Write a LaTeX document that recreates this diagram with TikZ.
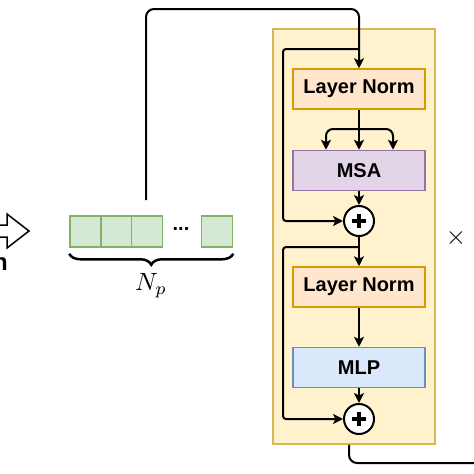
\documentclass[tikz,border=0pt]{standalone}
\usepackage{fontspec}
\setsansfont{Liberation Sans}
\usetikzlibrary{arrows.meta,decorations.pathreplacing}
\definecolor{blkfill}{HTML}{FFF2CC}
\definecolor{blkdraw}{HTML}{D6B656}
\definecolor{lnfill}{HTML}{FFE6CC}
\definecolor{lndraw}{HTML}{D79B00}
\definecolor{msafill}{HTML}{E1D5E7}
\definecolor{msadraw}{HTML}{9673A6}
\definecolor{mlpfill}{HTML}{DAE8FC}
\definecolor{mlpdraw}{HTML}{6C8EBF}
\definecolor{cellfill}{HTML}{D5E8D4}
\definecolor{celldraw}{HTML}{82B366}
\tikzset{
  layerbox/.style={rectangle, minimum width=132pt, minimum height=40pt, inner sep=0pt, line width=1.5pt,
    font=\sffamily\bfseries\fontsize{20}{24}\selectfont},
  cellbox/.style={rectangle, minimum width=31pt, minimum height=31pt, inner sep=0pt, line width=1.5pt,
    fill=cellfill, draw=celldraw},
  plusnode/.style={circle, minimum size=30pt, inner sep=0pt, draw=black, fill=white, line width=2pt},
  conn/.style={line width=2pt, draw=black},
  arr/.style={conn, -{Stealth[length=10pt,width=10pt,inset=2.5pt]}},
}
\newcommand{\plussign}[1]{%
  \draw[line width=3.5pt] ([xshift=-7pt]#1.center) -- ([xshift=7pt]#1.center);
  \draw[line width=3.5pt] ([yshift=-7pt]#1.center) -- ([yshift=7pt]#1.center);}
\begin{document}
\begin{tikzpicture}[x=1pt,y=-1pt]
\useasboundingbox (0,0) rectangle (474,474);
\clip (0,0) rectangle (474,474);
\fill[white] (0,0) rectangle (474,474);

% container block
\node[rectangle, minimum width=162pt, minimum height=415pt, inner sep=0pt, fill=blkfill, draw=blkdraw, line width=1.5pt] (blk) at (354,236.5) {};

% boxes
\node[layerbox, fill=lnfill, draw=lndraw] (ln1) at (359,89) {Layer Norm};
\node[layerbox, fill=msafill, draw=msadraw] (msa) at (359,170.5) {MSA};
\node[plusnode] (p1) at (359,221) {};
\node[layerbox, fill=lnfill, draw=lndraw] (ln2) at (359,287) {Layer Norm};
\node[layerbox, fill=mlpfill, draw=mlpdraw] (mlp) at (359,367.5) {MLP};
\node[plusnode] (p2) at (359,419) {};
\plussign{p1}
\plussign{p2}

% patch cells
\node[cellbox] (c1) at (85.5,231.5) {};
\node[cellbox] (c2) at (116.5,231.5) {};
\node[cellbox] (c3) at (147,231.5) {};
\node[cellbox] (c4) at (217,231.5) {};
\node[font=\sffamily\bfseries\fontsize{20}{24}\selectfont, inner sep=0pt] (dots) at (181,229) {...};
\draw[line width=2.5pt, decorate, decoration={brace, amplitude=11pt, mirror}] ([yshift=-6pt]c1.south west) -- ([yshift=-6pt]c4.south east);
\node[inner sep=0pt] (np) at (151,286) {\scalebox{2.5}{$N_p$}};

% input line to block
\coordinate (src) at (146,200);
\coordinate (topc) at (359,9);
\draw[arr, rounded corners=8pt] (src) |- (topc) -- (ln1.north);

% skip 1
\coordinate (s1) at (359,49);
\coordinate (s1l) at (283,49);
\draw[arr, rounded corners=3pt] (s1) -- (s1l) |- (p1.west);

% LN1 -> MSA (three branches)
\coordinate (br) at (359,129);
\draw[conn] (ln1.south) -- (br);
\draw[arr] (br) -- (msa.north);
\draw[arr, rounded corners=7pt] (br) -| ([xshift=-33pt]msa.north);
\draw[arr, rounded corners=7pt] (br) -| ([xshift=34pt]msa.north);

\draw[arr] (msa.south) -- (p1.north);
\draw[arr] (p1.south) -- (ln2.north);
\draw[arr] (ln2.south) -- (mlp.north);
\draw[arr] (mlp.south) -- (p2.north);

% skip 2
\coordinate (s2) at (359,247);
\coordinate (s2l) at (283,247);
\draw[arr, rounded corners=3pt] (s2) -- (s2l) |- (p2.west);

% output
\coordinate (outr) at (480,463);
\draw[conn, rounded corners=8pt] ([xshift=-5pt]blk.south) |- (outr);

% times
\node[inner sep=0pt] (times) at (456,238) {\scalebox{2.6}{$\times$}};

% hollow arrow at left
\draw[line width=1.5pt, fill=white] (-5,225) -- (7,225) -- (7,214) -- (29,231) -- (7,248) -- (7,237) -- (-5,237);
\node[font=\sffamily\bfseries\fontsize{24}{28}\selectfont, inner sep=0pt, anchor=base east] (lbl) at (8,270) {n};
\end{tikzpicture}
\end{document}
